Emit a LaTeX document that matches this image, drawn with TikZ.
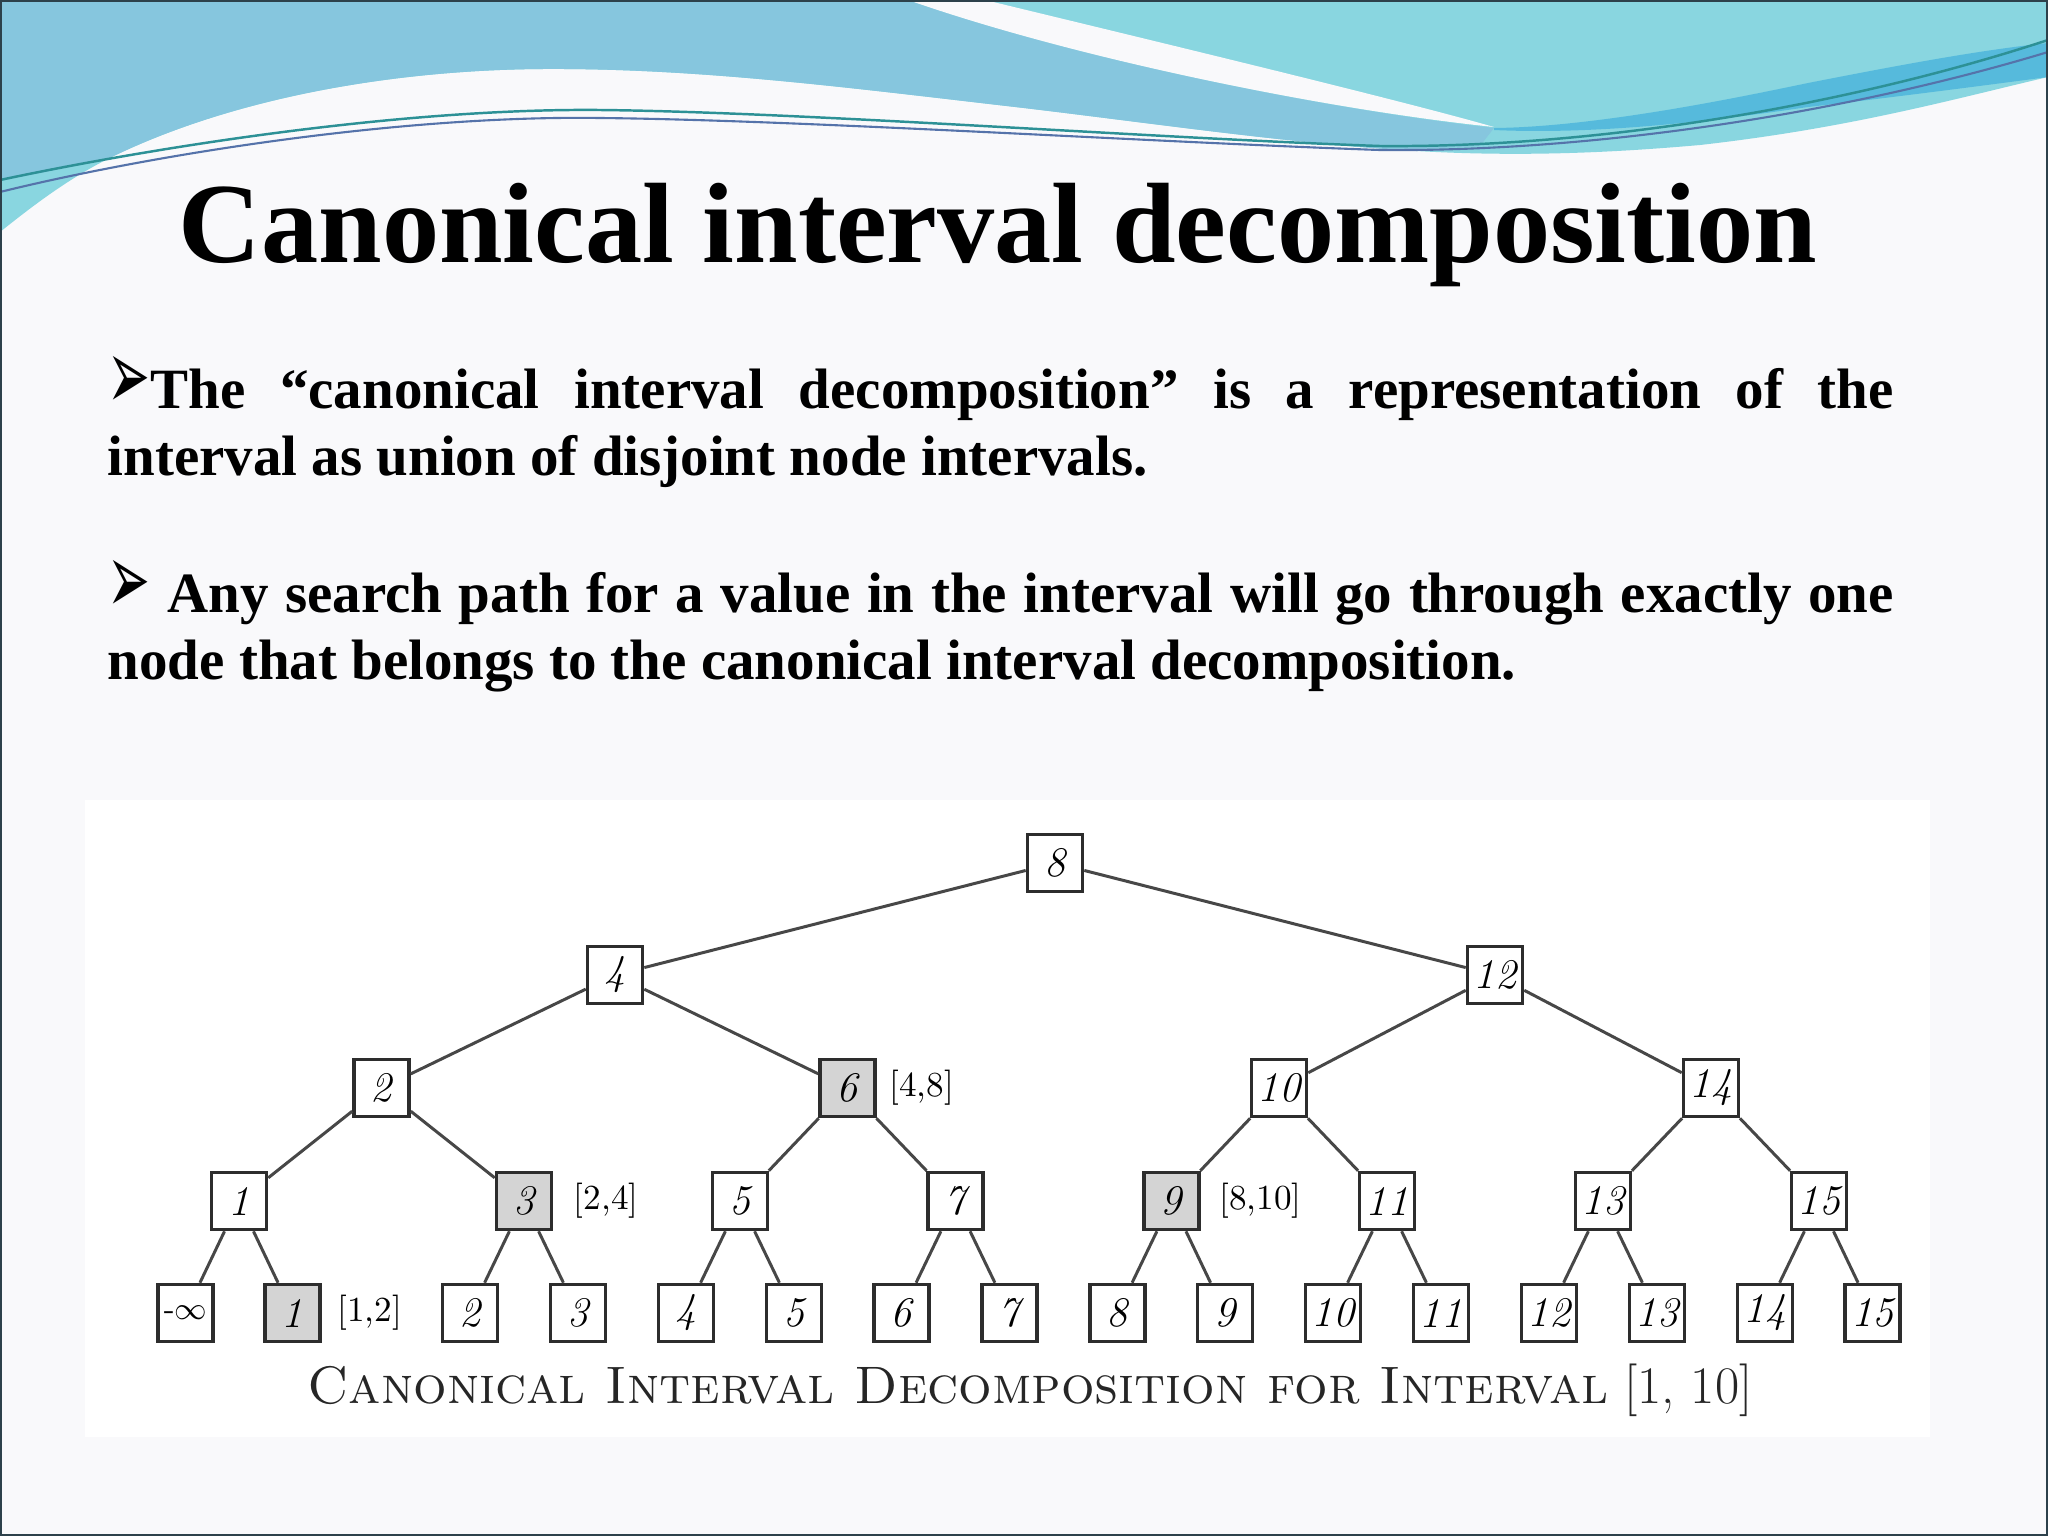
\documentclass[tikz,border=0pt]{standalone}
\usepackage{fontspec}
\usepackage{graphicx}
\usetikzlibrary{positioning}
\newfontfamily\slidefont{Liberation Serif}
\newfontfamily\arrowfont{DejaVu Sans}
\newcommand{\pointer}{\raisebox{-0.02em}{\scalebox{0.9}[1.75]{\arrowfont ➢}}}
\newcommand{\slidepar}{\hyphenpenalty=10000\exhyphenpenalty=10000\spaceskip=0.25em plus 1em\relax}
\definecolor{slidebg}{RGB}{249,249,251}
\definecolor{cyanfill}{RGB}{137,214,224}
\definecolor{bluefill}{RGB}{134,198,222}
\definecolor{ribbon}{RGB}{78,182,220}
\definecolor{wavea}{RGB}{45,145,150}
\definecolor{waveb}{RGB}{85,115,170}
\definecolor{frameline}{RGB}{45,65,75}
\definecolor{keyline}{RGB}{45,45,45}
\definecolor{keyfill}{RGB}{212,212,212}

\begin{document}
\begin{tikzpicture}[x=0.01cm,y=-0.01cm,
    key/.style={draw=keyline,line width=1pt,fill=white,minimum width=0.55cm,
      minimum height=0.57cm,inner sep=0pt,font=\fontsize{12}{12}\selectfont\itshape},
    hit/.style={key,fill=keyfill},
    ivl/.style={inner sep=0pt,font=\fontsize{10}{10}\selectfont},
    edge/.style={draw=black!72,line width=0.85pt},
    point/.style={anchor=base west,inner sep=0pt,text width=17.85cm,align=justify,
      font=\slidefont\bfseries\fontsize{16.2}{19.2}\selectfont}]
  \useasboundingbox (0,0) rectangle (2048,1536);
  \fill[slidebg] (0,0) rectangle (2048,1536);

  % header waves
  \fill[cyanfill] (0,0) -- (2048,0) -- (2048,77)
    .. controls (1950,100) and (1850,128) .. (1700,145)
    .. controls (1620,152) and (1520,158) .. (1400,150)
    .. controls (1280,142) and (1150,123) .. (1024,108)
    .. controls (850,88) and (700,68) .. (542,69)
    .. controls (400,70) and (250,95) .. (131,148)
    .. controls (80,170) and (40,200) .. (0,232) -- cycle;
  \fill[bluefill] (0,0) -- (908,0)
    .. controls (1080,60) and (1330,110) .. (1494,128) -- (1480,146) -- (1400,150)
    .. controls (1280,142) and (1150,123) .. (1024,108)
    .. controls (850,88) and (700,68) .. (542,69)
    .. controls (400,70) and (250,95) .. (131,148)
    -- (105,160) -- (0,181) -- cycle;
  \fill[slidebg] (908,0) -- (985,0) .. controls (1150,40) and (1400,100) .. (1494,127)
    .. controls (1330,110) and (1080,60) .. (908,0) -- cycle;
  \fill[ribbon,opacity=0.85] (1494,128) .. controls (1600,127) and (1750,95) .. (1808,83)
    .. controls (1900,65) and (1980,50) .. (2048,43) -- (2048,77)
    .. controls (1950,90) and (1870,100) .. (1808,107)
    .. controls (1720,120) and (1600,135) .. (1494,130) -- cycle;
  \draw[wavea,line width=0.7pt] (0,180) .. controls (150,148) and (400,108) .. (600,110)
    .. controls (800,112) and (1150,138) .. (1380,146)
    .. controls (1600,148) and (1850,105) .. (2048,40);
  \draw[waveb,line width=0.6pt] (0,192) .. controls (150,155) and (400,115) .. (600,118)
    .. controls (800,120) and (1150,142) .. (1380,150)
    .. controls (1600,152) and (1850,112) .. (2048,52);
  \draw[frameline,line width=1.2pt] (0,0) rectangle (2048,1536);

  % text
  \node[anchor=base,inner sep=0pt,font=\slidefont\bfseries\fontsize{32.5}{39}\selectfont]
    (title) at (998,262) {Canonical interval decomposition};
  \node[point] (point1) at (107,408)
    {\slidepar\pointer The “canonical interval decomposition” is a representation of the interval as union of disjoint node intervals.};
  \node[point] (point2) at (107,612)
    {\slidepar\pointer{} Any search path for a value in the interval will go through exactly one node that belongs to the canonical interval decomposition.};

  % figure
  \fill[white] (85,800) rectangle (1930,1437);
  \node[key] (n8) at (1055,863) {8};
  \node[key] (n4) at (615,975) {4};
  \draw[edge] (n8) -- (n4);
  \node[key] (n12) at (1495,975) {12};
  \draw[edge] (n8) -- (n12);
  \node[key] (n2) at (381.5,1088) {2};
  \draw[edge] (n4) -- (n2);
  \node[hit] (n6) at (847.5,1088) {6};
  \draw[edge] (n4) -- (n6);
  \node[key] (n10) at (1279,1088) {10};
  \draw[edge] (n12) -- (n10);
  \node[key] (n14) at (1711,1088) {14};
  \draw[edge] (n12) -- (n14);
  \node[key] (n1) at (239,1201) {1};
  \draw[edge] (n2) -- (n1);
  \node[hit] (n3) at (524,1201) {3};
  \draw[edge] (n2) -- (n3);
  \node[key] (n5) at (740,1201) {5};
  \draw[edge] (n6) -- (n5);
  \node[key] (n7) at (955.5,1201) {7};
  \draw[edge] (n6) -- (n7);
  \node[hit] (n9) at (1171.5,1201) {9};
  \draw[edge] (n10) -- (n9);
  \node[key] (n11) at (1387,1201) {11};
  \draw[edge] (n10) -- (n11);
  \node[key] (n13) at (1603,1201) {13};
  \draw[edge] (n14) -- (n13);
  \node[key] (n15) at (1819,1201) {15};
  \draw[edge] (n14) -- (n15);
  \node[key] (lm) at (185.5,1313) {\upshape\fontsize{9}{9}\selectfont-$\infty$};
  \draw[edge] (n1) -- (lm);
  \node[hit] (l1) at (292.5,1313) {1};
  \draw[edge] (n1) -- (l1);
  \node[key] (l2) at (470,1313) {2};
  \draw[edge] (n3) -- (l2);
  \node[key] (l3) at (578,1313) {3};
  \draw[edge] (n3) -- (l3);
  \node[key] (l4) at (686,1313) {4};
  \draw[edge] (n5) -- (l4);
  \node[key] (l5) at (794,1313) {5};
  \draw[edge] (n5) -- (l5);
  \node[key] (l6) at (901.5,1313) {6};
  \draw[edge] (n7) -- (l6);
  \node[key] (l7) at (1009.5,1313) {7};
  \draw[edge] (n7) -- (l7);
  \node[key] (l8) at (1117.5,1313) {8};
  \draw[edge] (n9) -- (l8);
  \node[key] (l9) at (1225,1313) {9};
  \draw[edge] (n9) -- (l9);
  \node[key] (l10) at (1333,1313) {10};
  \draw[edge] (n11) -- (l10);
  \node[key] (l11) at (1441,1313) {11};
  \draw[edge] (n11) -- (l11);
  \node[key] (l12) at (1549,1313) {12};
  \draw[edge] (n13) -- (l12);
  \node[key] (l13) at (1657,1313) {13};
  \draw[edge] (n13) -- (l13);
  \node[key] (l14) at (1765,1313) {14};
  \draw[edge] (n15) -- (l14);
  \node[key] (l15) at (1872.5,1313) {15};
  \draw[edge] (n15) -- (l15);
  \node[ivl,right=0.15cm of l1] (i1) {[1,2]};
  \node[ivl,right=0.2cm of n3] (i3) {[2,4]};
  \node[ivl,right=0.12cm of n6] (i6) {[4,8]};
  \node[ivl,right=0.18cm of n9] (i9) {[8,10]};
  \node[anchor=base,inner sep=0pt,text=black!85,font=\fontsize{15}{15}\selectfont]
    (caption) at (1030,1403) {\textsc{Canonical Interval Decomposition for Interval} [1, 10]};
\end{tikzpicture}
\end{document}
